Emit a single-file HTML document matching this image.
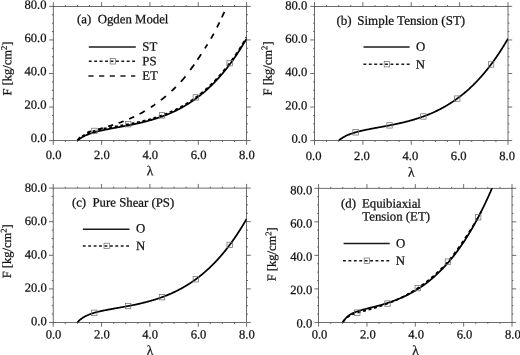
<!DOCTYPE html>
<html><head><meta charset="utf-8"><title>Ogden model figure</title>
<style>html,body{margin:0;padding:0;background:#fff}text{stroke:#111;stroke-width:.25px}body{width:520px;height:355px;overflow:hidden}</style>
</head><body>
<svg width="520" height="355" viewBox="0 0 520 355" font-family="'Liberation Serif', serif" style="display:block">
<rect width="520" height="355" fill="#fff"/>
<defs>
<clipPath id="ca"><rect x="53.3" y="6.4" width="193.30" height="134.20"/></clipPath>
<clipPath id="cb"><rect x="314.5" y="6.4" width="193.50" height="134.20"/></clipPath>
<clipPath id="cc"><rect x="53.2" y="188.1" width="193.40" height="134.40"/></clipPath>
<clipPath id="cd"><rect x="318.6" y="188.3" width="193.40" height="134.10"/></clipPath>
</defs>
<g stroke="#484848" stroke-width="0.8" fill="none">
<rect x="53.30" y="6.40" width="193.30" height="134.20"/>
<path d="M53.30 140.60v4.2M53.30 6.40v-4.2M65.38 140.60v1.4M65.38 6.40v-1.4M77.46 140.60v1.4M77.46 6.40v-1.4M89.54 140.60v1.4M89.54 6.40v-1.4M101.62 140.60v4.2M101.62 6.40v-4.2M113.71 140.60v1.4M113.71 6.40v-1.4M125.79 140.60v1.4M125.79 6.40v-1.4M137.87 140.60v1.4M137.87 6.40v-1.4M149.95 140.60v4.2M149.95 6.40v-4.2M162.03 140.60v1.4M162.03 6.40v-1.4M174.11 140.60v1.4M174.11 6.40v-1.4M186.19 140.60v1.4M186.19 6.40v-1.4M198.28 140.60v4.2M198.28 6.40v-4.2M210.36 140.60v1.4M210.36 6.40v-1.4M222.44 140.60v1.4M222.44 6.40v-1.4M234.52 140.60v1.4M234.52 6.40v-1.4M246.60 140.60v4.2M246.60 6.40v-4.2M53.30 140.60h-4.2M246.60 140.60h4.2M53.30 132.21h-1.4M246.60 132.21h1.4M53.30 123.82h-1.4M246.60 123.82h1.4M53.30 115.44h-1.4M246.60 115.44h1.4M53.30 107.05h-4.2M246.60 107.05h4.2M53.30 98.66h-1.4M246.60 98.66h1.4M53.30 90.28h-1.4M246.60 90.28h1.4M53.30 81.89h-1.4M246.60 81.89h1.4M53.30 73.50h-4.2M246.60 73.50h4.2M53.30 65.11h-1.4M246.60 65.11h1.4M53.30 56.73h-1.4M246.60 56.73h1.4M53.30 48.34h-1.4M246.60 48.34h1.4M53.30 39.95h-4.2M246.60 39.95h4.2M53.30 31.56h-1.4M246.60 31.56h1.4M53.30 23.18h-1.4M246.60 23.18h1.4M53.30 14.79h-1.4M246.60 14.79h1.4M53.30 6.40h-4.2M246.60 6.40h4.2"/>
</g>
<g font-size="12.6" fill="#111">
<text x="53.60" y="159.10" transform="rotate(0.03 53.60 159.10)" text-anchor="middle">0.0</text>
<text x="101.92" y="159.10" transform="rotate(0.03 101.92 159.10)" text-anchor="middle">2.0</text>
<text x="150.25" y="159.10" transform="rotate(0.03 150.25 159.10)" text-anchor="middle">4.0</text>
<text x="198.58" y="159.10" transform="rotate(0.03 198.58 159.10)" text-anchor="middle">6.0</text>
<text x="246.90" y="159.10" transform="rotate(0.03 246.90 159.10)" text-anchor="middle">8.0</text>
<text x="46.50" y="142.00" transform="rotate(0.03 46.50 142.00)" text-anchor="end">0.0</text>
<text x="46.50" y="108.66" transform="rotate(0.03 46.50 108.66)" text-anchor="end">20.0</text>
<text x="46.50" y="75.33" transform="rotate(0.03 46.50 75.33)" text-anchor="end">40.0</text>
<text x="46.50" y="41.99" transform="rotate(0.03 46.50 41.99)" text-anchor="end">60.0</text>
<text x="46.50" y="8.65" transform="rotate(0.03 46.50 8.65)" text-anchor="end">80.0</text>
</g>
<text x="150.05" y="175.20" transform="rotate(0.03 150.05 175.20)" text-anchor="middle" font-size="13.5" fill="#111">λ</text>
<text transform="translate(11.20 95.50) rotate(-89.97)" font-size="12.5" fill="#111">F [kg/cm<tspan font-size="8.6" dy="-4.6">2</tspan><tspan dy="4.6">]</tspan></text>
<g clip-path="url(#ca)">
<path d="M77.65 140.30L77.88 139.96L78.10 139.62L78.33 139.30L78.56 139.00L78.79 138.70L79.01 138.42L79.24 138.15L79.47 137.88L79.70 137.63L79.92 137.39L80.15 137.16M87.25 132.53L87.60 132.39L87.94 132.24L88.29 132.11L88.63 131.97L88.98 131.84L89.32 131.72L89.67 131.60L90.01 131.48L90.36 131.36L90.70 131.25L91.05 131.14M97.95 129.35L98.39 129.24L98.82 129.14L99.26 129.03L99.70 128.91L100.13 128.80L100.57 128.68L101.00 128.56L101.44 128.44L101.88 128.31L102.31 128.19L102.75 128.06M108.15 126.42L108.60 126.28L109.06 126.14L109.51 126.00L109.97 125.86L110.42 125.72L110.88 125.58L111.33 125.44L111.79 125.30L112.24 125.16L112.70 125.01L113.15 124.87M118.65 123.03L119.10 122.87L119.56 122.71L120.01 122.54L120.47 122.38L120.92 122.21L121.38 122.05L121.83 121.88L122.29 121.71L122.74 121.54L123.20 121.37L123.65 121.20M129.15 118.97L129.60 118.77L130.06 118.57L130.51 118.37L130.97 118.17L131.42 117.97L131.88 117.76L132.33 117.55L132.79 117.34L133.24 117.13L133.70 116.92L134.15 116.70M139.55 113.95L140.02 113.70L140.50 113.45L140.97 113.19L141.44 112.93L141.91 112.67L142.39 112.41L142.86 112.14L143.33 111.87L143.80 111.60L144.28 111.32L144.75 111.04M150.85 107.27L151.25 107.01L151.65 106.75L152.05 106.48L152.45 106.22L152.85 105.95L153.25 105.69L153.65 105.42L154.05 105.14L154.45 104.87L154.85 104.59L155.25 104.31M160.95 100.10L161.40 99.75L161.84 99.40L162.29 99.05L162.73 98.69L163.18 98.33L163.62 97.97L164.07 97.61L164.51 97.24L164.96 96.87L165.40 96.50L165.85 96.12M171.55 91.08L171.94 90.72L172.33 90.35L172.72 89.99L173.11 89.62L173.50 89.25L173.90 88.87L174.29 88.50L174.68 88.12L175.07 87.74L175.46 87.35L175.85 86.96M180.85 81.73L181.26 81.28L181.67 80.82L182.08 80.36L182.49 79.89L182.90 79.42L183.30 78.94L183.71 78.45L184.12 77.95L184.53 77.44L184.94 76.93L185.35 76.42M190.15 70.07L190.51 69.58L190.88 69.10L191.24 68.61L191.60 68.12L191.97 67.63L192.33 67.14L192.70 66.64L193.06 66.14L193.42 65.64L193.79 65.13L194.15 64.62M197.45 59.85L197.79 59.34L198.12 58.84L198.46 58.33L198.80 57.83L199.13 57.32L199.47 56.81L199.80 56.30L200.14 55.79L200.48 55.28L200.81 54.77L201.15 54.26M204.95 48.35L205.18 47.98L205.40 47.62L205.63 47.25L205.86 46.89L206.09 46.52L206.31 46.16L206.54 45.80L206.77 45.43L207.00 45.07L207.22 44.71L207.45 44.35M210.95 38.63L211.20 38.19L211.46 37.75L211.71 37.31L211.97 36.86L212.22 36.41L212.48 35.95L212.73 35.48L212.99 35.01L213.24 34.54L213.50 34.07L213.75 33.59M216.95 27.43L217.18 26.98L217.40 26.53L217.63 26.08L217.86 25.62L218.09 25.17L218.31 24.71L218.54 24.25L218.77 23.78L219.00 23.32L219.22 22.85L219.45 22.39M221.85 17.33L222.08 16.84L222.30 16.35L222.53 15.86L222.76 15.36L222.99 14.86L223.21 14.37L223.44 13.86L223.67 13.36L223.90 12.86L224.12 12.35L224.35 11.84" stroke="#000" stroke-width="1.75" fill="none"/>
<path d="M77.46 140.60L77.48 140.58L78.33 139.63L79.18 138.78L79.78 138.22M82.12 136.37L82.14 136.36L82.98 135.79L83.83 135.26L84.67 134.77L84.76 134.73M87.29 133.46L87.29 133.46L88.14 133.09L88.99 132.74L89.83 132.41L90.07 132.32M92.69 131.42L92.71 131.42L93.55 131.15L94.40 130.90L95.25 130.66L95.53 130.58M98.18 129.89L98.18 129.89L99.03 129.69L99.88 129.49L100.72 129.30L101.04 129.23M103.70 128.66L103.72 128.65L104.57 128.48L105.42 128.31L106.26 128.15L106.57 128.09M109.25 127.58L109.26 127.58L110.11 127.42L110.96 127.27L111.80 127.12L112.12 127.06M114.80 126.58L114.80 126.58L115.65 126.43L116.50 126.29L117.34 126.14L117.68 126.08M120.36 125.60L120.37 125.60L121.21 125.45L122.06 125.30L122.90 125.15L123.23 125.09M125.91 124.60L125.93 124.60L126.77 124.44L127.62 124.28L128.46 124.12L128.78 124.06M131.45 123.54L131.47 123.54L132.31 123.37L133.16 123.20L134.00 123.02L134.32 122.96M136.99 122.39L137.01 122.39L137.85 122.20L138.70 122.01L139.54 121.82L139.85 121.75M142.51 121.13L142.53 121.13L143.37 120.92L144.22 120.71L145.06 120.50L145.37 120.42M148.02 119.73L148.02 119.73L148.87 119.50L149.71 119.26L150.56 119.02L150.86 118.94M153.50 118.16L153.52 118.16L154.37 117.90L155.21 117.63L156.06 117.37L156.33 117.28M158.95 116.41L158.95 116.41L159.80 116.12L160.65 115.83L161.49 115.53L161.76 115.43M164.37 114.46L164.39 114.45L165.23 114.12L166.08 113.79L166.93 113.45L167.16 113.36M169.74 112.28L169.76 112.27L170.61 111.91L171.45 111.53L172.30 111.15L172.50 111.06M175.05 109.87L175.07 109.86L175.91 109.45L176.76 109.03L177.60 108.61L177.78 108.52M180.30 107.20L180.31 107.20L181.16 106.74L182.00 106.27L182.85 105.80L182.99 105.72M185.48 104.27L185.49 104.27L186.34 103.76L187.18 103.24L188.03 102.71L188.13 102.65M190.57 101.08L190.59 101.07L191.43 100.50L192.28 99.93L193.12 99.35L193.17 99.32M195.57 97.61L195.58 97.60L196.42 96.98L197.27 96.35L198.11 95.71M200.46 93.88L200.46 93.87L201.31 93.19L202.15 92.50L202.95 91.84M205.24 89.88L205.24 89.88L206.09 89.13L206.93 88.38L207.67 87.71M209.90 85.63L209.91 85.61L210.76 84.80L211.61 83.98L212.26 83.33M214.43 81.13L214.44 81.13L215.28 80.25L216.13 79.35L216.73 78.71M218.84 76.40L218.86 76.38L219.70 75.43L220.55 74.47L221.07 73.86M223.12 71.45L223.13 71.44L223.98 70.42L224.82 69.39L225.29 68.81M227.27 66.30L227.27 66.30L228.12 65.20L228.97 64.09L229.37 63.56M231.29 60.96L231.29 60.96L232.14 59.79L232.98 58.60L233.32 58.13M235.18 55.45L235.20 55.41L236.05 54.17L236.89 52.91L237.15 52.53M238.95 49.77L238.97 49.74L239.81 48.42L240.66 47.08L240.85 46.77M242.60 43.95L242.60 43.94L243.45 42.54L244.30 41.13L244.44 40.88M246.13 38.00L246.13 37.98L246.60 37.17" stroke="#000" stroke-width="1.75" fill="none"/>
<path d="M77.46 140.60L78.03 140.12L78.59 139.66L79.16 139.22L79.73 138.81L80.29 138.41L80.86 138.04L81.42 137.68L81.99 137.34L82.55 137.01L83.12 136.70L83.68 136.40L84.25 136.11L84.82 135.83L85.38 135.56L85.95 135.31L86.51 135.06L87.08 134.82L87.64 134.59L88.21 134.36L88.78 134.15L89.34 133.94L89.91 133.73L90.47 133.54L91.04 133.34L91.60 133.16L92.17 132.98L92.74 132.80L93.30 132.63L93.87 132.46L94.43 132.30L95.00 132.14L95.56 131.98L96.13 131.83L96.70 131.68L97.26 131.53L97.83 131.39L98.39 131.25L98.96 131.11L99.52 130.97L100.09 130.84L100.66 130.71L101.22 130.58L101.79 130.45L102.35 130.33L102.92 130.20L103.48 130.08L104.05 129.96L104.62 129.84L105.18 129.73L105.75 129.61L106.31 129.50L106.88 129.38L107.44 129.27L108.01 129.16L108.57 129.05L109.14 128.94L109.71 128.83L110.27 128.72L110.84 128.61L111.40 128.51L111.97 128.40L112.53 128.29L113.10 128.19L113.67 128.08L114.23 127.98L114.80 127.87L115.36 127.77L115.93 127.67L116.49 127.56L117.06 127.46L117.63 127.35L118.19 127.25L118.76 127.15L119.32 127.04L119.89 126.94L120.45 126.84L121.02 126.73L121.59 126.63L122.15 126.52L122.72 126.42L123.28 126.31L123.85 126.21L124.41 126.10L124.98 125.99L125.55 125.89L126.11 125.78L126.68 125.67L127.24 125.56L127.81 125.45L128.37 125.34L128.94 125.23L129.50 125.12L130.07 125.01L130.64 124.89L131.20 124.78L131.77 124.66L132.33 124.55L132.90 124.43L133.46 124.31L134.03 124.20L134.60 124.08L135.16 123.96L135.73 123.83L136.29 123.71L136.86 123.59L137.42 123.46L137.99 123.34L138.56 123.21L139.12 123.08L139.69 122.95L140.25 122.82L140.82 122.69L141.38 122.55L141.95 122.42L142.52 122.28L143.08 122.14L143.65 122.00L144.21 121.86L144.78 121.72L145.34 121.57L145.91 121.43L146.48 121.28L147.04 121.13L147.61 120.98L148.17 120.83L148.74 120.67L149.30 120.52L149.87 120.36L150.43 120.20L151.00 120.04L151.57 119.87L152.13 119.71L152.70 119.54L153.26 119.37L153.83 119.20L154.39 119.03L154.96 118.85L155.53 118.67L156.09 118.49L156.66 118.31L157.22 118.13L157.79 117.94L158.35 117.75L158.92 117.56L159.49 117.37L160.05 117.17L160.62 116.97L161.18 116.77L161.75 116.57L162.31 116.37L162.88 116.16L163.45 115.95L164.01 115.73L164.58 115.52L165.14 115.30L165.71 115.08L166.27 114.86L166.84 114.63L167.41 114.40L167.97 114.17L168.54 113.94L169.10 113.70L169.67 113.46L170.23 113.22L170.80 112.97L171.36 112.72L171.93 112.47L172.50 112.21L173.06 111.95L173.63 111.69L174.19 111.43L174.76 111.16L175.32 110.89L175.89 110.62L176.46 110.34L177.02 110.06L177.59 109.78L178.15 109.49L178.72 109.20L179.28 108.90L179.85 108.61L180.42 108.31L180.98 108.00L181.55 107.69L182.11 107.38L182.68 107.07L183.24 106.75L183.81 106.42L184.38 106.10L184.94 105.77L185.51 105.43L186.07 105.10L186.64 104.75L187.20 104.41L187.77 104.06L188.34 103.71L188.90 103.35L189.47 102.99L190.03 102.62L190.60 102.25L191.16 101.88L191.73 101.50L192.29 101.12L192.86 100.73L193.43 100.34L193.99 99.94L194.56 99.54L195.12 99.14L195.69 98.73L196.25 98.32L196.82 97.90L197.39 97.48L197.95 97.05L198.52 96.62L199.08 96.18L199.65 95.74L200.21 95.30L200.78 94.84L201.35 94.39L201.91 93.93L202.48 93.46L203.04 92.99L203.61 92.52L204.17 92.04L204.74 91.55L205.31 91.06L205.87 90.57L206.44 90.07L207.00 89.56L207.57 89.05L208.13 88.53L208.70 88.01L209.27 87.48L209.83 86.95L210.40 86.41L210.96 85.87L211.53 85.32L212.09 84.76L212.66 84.20L213.23 83.64L213.79 83.07L214.36 82.49L214.92 81.90L215.49 81.32L216.05 80.72L216.62 80.12L217.18 79.51L217.75 78.90L218.32 78.28L218.88 77.65L219.45 77.02L220.01 76.38L220.58 75.74L221.14 75.09L221.71 74.43L222.28 73.77L222.84 73.10L223.41 72.43L223.97 71.74L224.54 71.05L225.10 70.36L225.67 69.66L226.24 68.95L226.80 68.23L227.37 67.51L227.93 66.78L228.50 66.05L229.06 65.30L229.63 64.55L230.20 63.80L230.76 63.03L231.33 62.26L231.89 61.48L232.46 60.70L233.02 59.91L233.59 59.11L234.16 58.30L234.72 57.49L235.29 56.66L235.85 55.83L236.42 55.00L236.98 54.15L237.55 53.30L238.11 52.44L238.68 51.58L239.25 50.70L239.81 49.82L240.38 48.93L240.94 48.03L241.51 47.12L242.07 46.21L242.64 45.29L243.21 44.36L243.77 43.42L244.34 42.47L244.90 41.52L245.47 40.55L246.03 39.58L246.60 38.60" stroke="#000" stroke-width="1.75" fill="none"/>
<rect x="91.68" y="128.21" width="5.4" height="5.4" fill="none" stroke="#707070" stroke-width="0.75"/>
<rect x="125.50" y="121.47" width="5.4" height="5.4" fill="none" stroke="#707070" stroke-width="0.75"/>
<rect x="159.33" y="112.63" width="5.4" height="5.4" fill="none" stroke="#707070" stroke-width="0.75"/>
<rect x="193.16" y="94.70" width="5.4" height="5.4" fill="none" stroke="#707070" stroke-width="0.75"/>
<rect x="226.99" y="60.43" width="5.4" height="5.4" fill="none" stroke="#707070" stroke-width="0.75"/>
</g>
<text x="77.00" y="23.20" transform="rotate(0.03 77.00 23.20)" font-size="12.8" fill="#111" xml:space="preserve">(a)<tspan dx="6.5">Ogden Model</tspan></text>
<path d="M88.8 46.9H135.8" stroke="#1a1a1a" stroke-width="1.5" fill="none"/>
<path d="M88.8 61.3H135.3" stroke="#1a1a1a" stroke-width="1.5" fill="none" stroke-dasharray="2.9 2.52"/>
<rect x="110.20" y="58.60" width="5.4" height="5.4" fill="none" stroke="#707070" stroke-width="0.75"/>
<path d="M88.4 76.0H135.3" stroke="#1a1a1a" stroke-width="1.5" fill="none" stroke-dasharray="5.2 5.47"/>
<text x="142.30" y="50.80" transform="rotate(0.03 142.30 50.80)" font-size="12.8" fill="#111" xml:space="preserve">ST</text>
<text x="142.30" y="65.30" transform="rotate(0.03 142.30 65.30)" font-size="12.8" fill="#111" xml:space="preserve">PS</text>
<text x="142.30" y="79.70" transform="rotate(0.03 142.30 79.70)" font-size="12.8" fill="#111" xml:space="preserve">ET</text>
<g stroke="#484848" stroke-width="0.8" fill="none">
<rect x="314.50" y="6.40" width="193.50" height="134.20"/>
<path d="M314.50 140.60v4.2M314.50 6.40v-4.2M326.59 140.60v1.4M326.59 6.40v-1.4M338.69 140.60v1.4M338.69 6.40v-1.4M350.78 140.60v1.4M350.78 6.40v-1.4M362.88 140.60v4.2M362.88 6.40v-4.2M374.97 140.60v1.4M374.97 6.40v-1.4M387.06 140.60v1.4M387.06 6.40v-1.4M399.16 140.60v1.4M399.16 6.40v-1.4M411.25 140.60v4.2M411.25 6.40v-4.2M423.34 140.60v1.4M423.34 6.40v-1.4M435.44 140.60v1.4M435.44 6.40v-1.4M447.53 140.60v1.4M447.53 6.40v-1.4M459.62 140.60v4.2M459.62 6.40v-4.2M471.72 140.60v1.4M471.72 6.40v-1.4M483.81 140.60v1.4M483.81 6.40v-1.4M495.91 140.60v1.4M495.91 6.40v-1.4M508.00 140.60v4.2M508.00 6.40v-4.2M314.50 140.60h-4.2M508.00 140.60h4.2M314.50 132.21h-1.4M508.00 132.21h1.4M314.50 123.82h-1.4M508.00 123.82h1.4M314.50 115.44h-1.4M508.00 115.44h1.4M314.50 107.05h-4.2M508.00 107.05h4.2M314.50 98.66h-1.4M508.00 98.66h1.4M314.50 90.28h-1.4M508.00 90.28h1.4M314.50 81.89h-1.4M508.00 81.89h1.4M314.50 73.50h-4.2M508.00 73.50h4.2M314.50 65.11h-1.4M508.00 65.11h1.4M314.50 56.73h-1.4M508.00 56.73h1.4M314.50 48.34h-1.4M508.00 48.34h1.4M314.50 39.95h-4.2M508.00 39.95h4.2M314.50 31.56h-1.4M508.00 31.56h1.4M314.50 23.18h-1.4M508.00 23.18h1.4M314.50 14.79h-1.4M508.00 14.79h1.4M314.50 6.40h-4.2M508.00 6.40h4.2"/>
</g>
<g font-size="12.6" fill="#111">
<text x="313.60" y="159.90" transform="rotate(0.03 313.60 159.90)" text-anchor="middle">0.0</text>
<text x="361.98" y="159.90" transform="rotate(0.03 361.98 159.90)" text-anchor="middle">2.0</text>
<text x="410.35" y="159.90" transform="rotate(0.03 410.35 159.90)" text-anchor="middle">4.0</text>
<text x="458.73" y="159.90" transform="rotate(0.03 458.73 159.90)" text-anchor="middle">6.0</text>
<text x="507.10" y="159.90" transform="rotate(0.03 507.10 159.90)" text-anchor="middle">8.0</text>
<text x="307.30" y="142.80" transform="rotate(0.03 307.30 142.80)" text-anchor="end">0.0</text>
<text x="307.30" y="109.45" transform="rotate(0.03 307.30 109.45)" text-anchor="end">20.0</text>
<text x="307.30" y="76.10" transform="rotate(0.03 307.30 76.10)" text-anchor="end">40.0</text>
<text x="307.30" y="42.75" transform="rotate(0.03 307.30 42.75)" text-anchor="end">60.0</text>
<text x="307.30" y="9.40" transform="rotate(0.03 307.30 9.40)" text-anchor="end">80.0</text>
</g>
<text x="411.35" y="176.50" transform="rotate(0.03 411.35 176.50)" text-anchor="middle" font-size="13.5" fill="#111">λ</text>
<text transform="translate(271.70 95.40) rotate(-89.97)" font-size="12.5" fill="#111">F [kg/cm<tspan font-size="8.6" dy="-4.6">2</tspan><tspan dy="4.6">]</tspan></text>
<g clip-path="url(#cb)">
<path d="M338.69 140.60L339.25 140.12L339.82 139.66L340.39 139.22L340.95 138.81L341.52 138.41L342.09 138.04L342.65 137.68L343.22 137.34L343.78 137.01L344.35 136.70L344.92 136.40L345.48 136.11L346.05 135.83L346.62 135.56L347.18 135.31L347.75 135.06L348.31 134.82L348.88 134.59L349.45 134.36L350.01 134.15L350.58 133.94L351.15 133.73L351.71 133.54L352.28 133.34L352.84 133.16L353.41 132.98L353.98 132.80L354.54 132.63L355.11 132.46L355.68 132.30L356.24 132.14L356.81 131.98L357.37 131.83L357.94 131.68L358.51 131.53L359.07 131.39L359.64 131.25L360.21 131.11L360.77 130.97L361.34 130.84L361.90 130.71L362.47 130.58L363.04 130.45L363.60 130.33L364.17 130.20L364.74 130.08L365.30 129.96L365.87 129.84L366.43 129.73L367.00 129.61L367.57 129.50L368.13 129.38L368.70 129.27L369.27 129.16L369.83 129.05L370.40 128.94L370.96 128.83L371.53 128.72L372.10 128.61L372.66 128.51L373.23 128.40L373.80 128.29L374.36 128.19L374.93 128.08L375.49 127.98L376.06 127.87L376.63 127.77L377.19 127.67L377.76 127.56L378.33 127.46L378.89 127.35L379.46 127.25L380.02 127.15L380.59 127.04L381.16 126.94L381.72 126.84L382.29 126.73L382.86 126.63L383.42 126.52L383.99 126.42L384.55 126.31L385.12 126.21L385.69 126.10L386.25 125.99L386.82 125.89L387.39 125.78L387.95 125.67L388.52 125.56L389.08 125.45L389.65 125.34L390.22 125.23L390.78 125.12L391.35 125.01L391.92 124.89L392.48 124.78L393.05 124.66L393.61 124.55L394.18 124.43L394.75 124.31L395.31 124.20L395.88 124.08L396.45 123.96L397.01 123.83L397.58 123.71L398.15 123.59L398.71 123.46L399.28 123.34L399.84 123.21L400.41 123.08L400.98 122.95L401.54 122.82L402.11 122.69L402.68 122.55L403.24 122.42L403.81 122.28L404.37 122.14L404.94 122.00L405.51 121.86L406.07 121.72L406.64 121.57L407.21 121.43L407.77 121.28L408.34 121.13L408.90 120.98L409.47 120.83L410.04 120.67L410.60 120.52L411.17 120.36L411.74 120.20L412.30 120.04L412.87 119.87L413.43 119.71L414.00 119.54L414.57 119.37L415.13 119.20L415.70 119.03L416.27 118.85L416.83 118.67L417.40 118.49L417.96 118.31L418.53 118.13L419.10 117.94L419.66 117.75L420.23 117.56L420.80 117.37L421.36 117.17L421.93 116.97L422.49 116.77L423.06 116.57L423.63 116.37L424.19 116.16L424.76 115.95L425.33 115.73L425.89 115.52L426.46 115.30L427.02 115.08L427.59 114.86L428.16 114.63L428.72 114.40L429.29 114.17L429.86 113.94L430.42 113.70L430.99 113.46L431.55 113.22L432.12 112.97L432.69 112.72L433.25 112.47L433.82 112.21L434.39 111.95L434.95 111.69L435.52 111.43L436.08 111.16L436.65 110.89L437.22 110.62L437.78 110.34L438.35 110.06L438.92 109.78L439.48 109.49L440.05 109.20L440.61 108.90L441.18 108.61L441.75 108.31L442.31 108.00L442.88 107.69L443.45 107.38L444.01 107.07L444.58 106.75L445.14 106.42L445.71 106.10L446.28 105.77L446.84 105.43L447.41 105.10L447.98 104.75L448.54 104.41L449.11 104.06L449.67 103.71L450.24 103.35L450.81 102.99L451.37 102.62L451.94 102.25L452.51 101.88L453.07 101.50L453.64 101.12L454.21 100.73L454.77 100.34L455.34 99.94L455.90 99.54L456.47 99.14L457.04 98.73L457.60 98.32L458.17 97.90L458.74 97.48L459.30 97.05L459.87 96.62L460.43 96.18L461.00 95.74L461.57 95.30L462.13 94.84L462.70 94.39L463.27 93.93L463.83 93.46L464.40 92.99L464.96 92.52L465.53 92.04L466.10 91.55L466.66 91.06L467.23 90.57L467.80 90.07L468.36 89.56L468.93 89.05L469.49 88.53L470.06 88.01L470.63 87.48L471.19 86.95L471.76 86.41L472.33 85.87L472.89 85.32L473.46 84.76L474.02 84.20L474.59 83.64L475.16 83.07L475.72 82.49L476.29 81.90L476.86 81.32L477.42 80.72L477.99 80.12L478.55 79.51L479.12 78.90L479.69 78.28L480.25 77.65L480.82 77.02L481.39 76.38L481.95 75.74L482.52 75.09L483.08 74.43L483.65 73.77L484.22 73.10L484.78 72.43L485.35 71.74L485.92 71.05L486.48 70.36L487.05 69.66L487.61 68.95L488.18 68.23L488.75 67.51L489.31 66.78L489.88 66.05L490.45 65.30L491.01 64.55L491.58 63.80L492.14 63.03L492.71 62.26L493.28 61.48L493.84 60.70L494.41 59.91L494.98 59.11L495.54 58.30L496.11 57.49L496.67 56.66L497.24 55.83L497.81 55.00L498.37 54.15L498.94 53.30L499.51 52.44L500.07 51.58L500.64 50.70L501.20 49.82L501.77 48.93L502.34 48.03L502.90 47.12L503.47 46.21L504.04 45.29L504.60 44.36L505.17 43.42L505.73 42.47L506.30 41.52L506.87 40.55L507.43 39.58L508.00 38.60" stroke="#000" stroke-width="1.75" fill="none"/>
<rect x="352.92" y="129.61" width="5.4" height="5.4" fill="none" stroke="#707070" stroke-width="0.75"/>
<rect x="386.78" y="122.67" width="5.4" height="5.4" fill="none" stroke="#707070" stroke-width="0.75"/>
<rect x="420.64" y="113.77" width="5.4" height="5.4" fill="none" stroke="#707070" stroke-width="0.75"/>
<rect x="454.51" y="95.91" width="5.4" height="5.4" fill="none" stroke="#707070" stroke-width="0.75"/>
<rect x="488.37" y="61.78" width="5.4" height="5.4" fill="none" stroke="#707070" stroke-width="0.75"/>
</g>
<text x="336.40" y="24.70" transform="rotate(0.03 336.40 24.70)" font-size="13.0" fill="#111" xml:space="preserve">(b)<tspan dx="5.7">Simple Tension (ST)</tspan></text>
<path d="M363.5 47.0H409.6" stroke="#1a1a1a" stroke-width="1.5" fill="none"/>
<path d="M363.4 64.2H409.9" stroke="#1a1a1a" stroke-width="1.5" fill="none" stroke-dasharray="2.9 2.52"/>
<rect x="384.20" y="61.50" width="5.4" height="5.4" fill="none" stroke="#707070" stroke-width="0.75"/>
<text x="416.00" y="50.80" transform="rotate(0.03 416.00 50.80)" font-size="12.8" fill="#111" xml:space="preserve">O</text>
<text x="415.70" y="68.40" transform="rotate(0.03 415.70 68.40)" font-size="12.8" fill="#111" xml:space="preserve">N</text>
<g stroke="#484848" stroke-width="0.8" fill="none">
<rect x="53.20" y="188.10" width="193.40" height="134.40"/>
<path d="M53.20 322.50v4.2M53.20 188.10v-4.2M65.29 322.50v1.4M65.29 188.10v-1.4M77.38 322.50v1.4M77.38 188.10v-1.4M89.46 322.50v1.4M89.46 188.10v-1.4M101.55 322.50v4.2M101.55 188.10v-4.2M113.64 322.50v1.4M113.64 188.10v-1.4M125.72 322.50v1.4M125.72 188.10v-1.4M137.81 322.50v1.4M137.81 188.10v-1.4M149.90 322.50v4.2M149.90 188.10v-4.2M161.99 322.50v1.4M161.99 188.10v-1.4M174.07 322.50v1.4M174.07 188.10v-1.4M186.16 322.50v1.4M186.16 188.10v-1.4M198.25 322.50v4.2M198.25 188.10v-4.2M210.34 322.50v1.4M210.34 188.10v-1.4M222.42 322.50v1.4M222.42 188.10v-1.4M234.51 322.50v1.4M234.51 188.10v-1.4M246.60 322.50v4.2M246.60 188.10v-4.2M53.20 322.50h-4.2M246.60 322.50h4.2M53.20 314.10h-1.4M246.60 314.10h1.4M53.20 305.70h-1.4M246.60 305.70h1.4M53.20 297.30h-1.4M246.60 297.30h1.4M53.20 288.90h-4.2M246.60 288.90h4.2M53.20 280.50h-1.4M246.60 280.50h1.4M53.20 272.10h-1.4M246.60 272.10h1.4M53.20 263.70h-1.4M246.60 263.70h1.4M53.20 255.30h-4.2M246.60 255.30h4.2M53.20 246.90h-1.4M246.60 246.90h1.4M53.20 238.50h-1.4M246.60 238.50h1.4M53.20 230.10h-1.4M246.60 230.10h1.4M53.20 221.70h-4.2M246.60 221.70h4.2M53.20 213.30h-1.4M246.60 213.30h1.4M53.20 204.90h-1.4M246.60 204.90h1.4M53.20 196.50h-1.4M246.60 196.50h1.4M53.20 188.10h-4.2M246.60 188.10h4.2"/>
</g>
<g font-size="12.6" fill="#111">
<text x="53.50" y="338.50" transform="rotate(0.03 53.50 338.50)" text-anchor="middle">0.0</text>
<text x="101.85" y="338.50" transform="rotate(0.03 101.85 338.50)" text-anchor="middle">2.0</text>
<text x="150.20" y="338.50" transform="rotate(0.03 150.20 338.50)" text-anchor="middle">4.0</text>
<text x="198.55" y="338.50" transform="rotate(0.03 198.55 338.50)" text-anchor="middle">6.0</text>
<text x="246.90" y="338.50" transform="rotate(0.03 246.90 338.50)" text-anchor="middle">8.0</text>
<text x="46.70" y="325.20" transform="rotate(0.03 46.70 325.20)" text-anchor="end">0.0</text>
<text x="46.70" y="291.84" transform="rotate(0.03 46.70 291.84)" text-anchor="end">20.0</text>
<text x="46.70" y="258.48" transform="rotate(0.03 46.70 258.48)" text-anchor="end">40.0</text>
<text x="46.70" y="225.11" transform="rotate(0.03 46.70 225.11)" text-anchor="end">60.0</text>
<text x="46.70" y="191.75" transform="rotate(0.03 46.70 191.75)" text-anchor="end">80.0</text>
</g>
<text x="150.00" y="354.70" transform="rotate(0.03 150.00 354.70)" text-anchor="middle" font-size="13.5" fill="#111">λ</text>
<text transform="translate(11.10 278.30) rotate(-89.97)" font-size="12.5" fill="#111">F [kg/cm<tspan font-size="8.6" dy="-4.6">2</tspan><tspan dy="4.6">]</tspan></text>
<g clip-path="url(#cc)">
<path d="M77.38 322.50L77.94 321.86L78.51 321.26L79.07 320.70L79.64 320.17L80.20 319.68L80.77 319.21L81.34 318.77L81.90 318.36L82.47 317.96L83.03 317.59L83.60 317.24L84.17 316.90L84.73 316.58L85.30 316.28L85.86 315.99L86.43 315.71L87.00 315.45L87.56 315.19L88.13 314.95L88.69 314.71L89.26 314.49L89.83 314.27L90.39 314.06L90.96 313.86L91.52 313.66L92.09 313.48L92.66 313.29L93.22 313.12L93.79 312.94L94.35 312.78L94.92 312.62L95.49 312.46L96.05 312.30L96.62 312.15L97.18 312.01L97.75 311.87L98.32 311.73L98.88 311.59L99.45 311.46L100.01 311.32L100.58 311.20L101.15 311.07L101.71 310.95L102.28 310.82L102.84 310.70L103.41 310.59L103.98 310.47L104.54 310.36L105.11 310.24L105.67 310.13L106.24 310.02L106.81 309.91L107.37 309.80L107.94 309.70L108.50 309.59L109.07 309.48L109.64 309.38L110.20 309.28L110.77 309.17L111.33 309.07L111.90 308.97L112.47 308.87L113.03 308.77L113.60 308.66L114.16 308.56L114.73 308.46L115.29 308.36L115.86 308.26L116.43 308.16L116.99 308.06L117.56 307.96L118.12 307.86L118.69 307.76L119.26 307.66L119.82 307.56L120.39 307.46L120.95 307.36L121.52 307.26L122.09 307.16L122.65 307.06L123.22 306.96L123.78 306.85L124.35 306.75L124.92 306.65L125.48 306.54L126.05 306.44L126.61 306.33L127.18 306.23L127.75 306.12L128.31 306.01L128.88 305.91L129.44 305.80L130.01 305.69L130.58 305.58L131.14 305.46L131.71 305.35L132.27 305.24L132.84 305.12L133.41 305.01L133.97 304.89L134.54 304.77L135.10 304.66L135.67 304.54L136.24 304.41L136.80 304.29L137.37 304.17L137.93 304.04L138.50 303.92L139.07 303.79L139.63 303.66L140.20 303.53L140.76 303.40L141.33 303.27L141.90 303.13L142.46 303.00L143.03 302.86L143.59 302.72L144.16 302.58L144.73 302.44L145.29 302.30L145.86 302.15L146.42 302.00L146.99 301.86L147.56 301.71L148.12 301.55L148.69 301.40L149.25 301.24L149.82 301.09L150.39 300.93L150.95 300.77L151.52 300.60L152.08 300.44L152.65 300.27L153.21 300.10L153.78 299.93L154.35 299.75L154.91 299.58L155.48 299.40L156.04 299.22L156.61 299.04L157.18 298.85L157.74 298.67L158.31 298.48L158.87 298.29L159.44 298.09L160.01 297.90L160.57 297.70L161.14 297.50L161.70 297.30L162.27 297.09L162.84 296.88L163.40 296.67L163.97 296.46L164.53 296.24L165.10 296.02L165.67 295.80L166.23 295.58L166.80 295.35L167.36 295.12L167.93 294.89L168.50 294.65L169.06 294.41L169.63 294.17L170.19 293.93L170.76 293.68L171.33 293.43L171.89 293.18L172.46 292.92L173.02 292.66L173.59 292.40L174.16 292.13L174.72 291.86L175.29 291.59L175.85 291.31L176.42 291.04L176.99 290.75L177.55 290.47L178.12 290.18L178.68 289.89L179.25 289.59L179.82 289.29L180.38 288.99L180.95 288.68L181.51 288.37L182.08 288.06L182.65 287.74L183.21 287.42L183.78 287.10L184.34 286.77L184.91 286.44L185.48 286.10L186.04 285.76L186.61 285.42L187.17 285.07L187.74 284.72L188.31 284.36L188.87 284.00L189.44 283.64L190.00 283.27L190.57 282.90L191.13 282.52L191.70 282.14L192.27 281.76L192.83 281.37L193.40 280.98L193.96 280.58L194.53 280.18L195.10 279.77L195.66 279.36L196.23 278.94L196.79 278.52L197.36 278.10L197.93 277.67L198.49 277.23L199.06 276.79L199.62 276.35L200.19 275.90L200.76 275.45L201.32 274.99L201.89 274.53L202.45 274.06L203.02 273.59L203.59 273.11L204.15 272.63L204.72 272.14L205.28 271.64L205.85 271.15L206.42 270.64L206.98 270.13L207.55 269.62L208.11 269.10L208.68 268.58L209.25 268.05L209.81 267.51L210.38 266.97L210.94 266.42L211.51 265.87L212.08 265.31L212.64 264.75L213.21 264.18L213.77 263.60L214.34 263.02L214.91 262.44L215.47 261.84L216.04 261.24L216.60 260.64L217.17 260.03L217.74 259.41L218.30 258.79L218.87 258.16L219.43 257.53L220.00 256.88L220.57 256.24L221.13 255.58L221.70 254.92L222.26 254.26L222.83 253.58L223.40 252.91L223.96 252.22L224.53 251.53L225.09 250.83L225.66 250.12L226.23 249.41L226.79 248.69L227.36 247.97L227.92 247.23L228.49 246.49L229.05 245.75L229.62 244.99L230.19 244.23L230.75 243.47L231.32 242.69L231.88 241.91L232.45 241.12L233.02 240.32L233.58 239.52L234.15 238.71L234.71 237.89L235.28 237.07L235.85 236.23L236.41 235.39L236.98 234.54L237.54 233.69L238.11 232.82L238.68 231.95L239.24 231.07L239.81 230.19L240.37 229.29L240.94 228.39L241.51 227.48L242.07 226.56L242.64 225.63L243.20 224.70L243.77 223.76L244.34 222.81L244.90 221.85L245.47 220.88L246.03 219.90L246.60 218.92" stroke="#000" stroke-width="1.75" fill="none"/>
<rect x="91.60" y="310.09" width="5.4" height="5.4" fill="none" stroke="#707070" stroke-width="0.75"/>
<rect x="125.44" y="303.35" width="5.4" height="5.4" fill="none" stroke="#707070" stroke-width="0.75"/>
<rect x="159.29" y="294.49" width="5.4" height="5.4" fill="none" stroke="#707070" stroke-width="0.75"/>
<rect x="193.13" y="276.53" width="5.4" height="5.4" fill="none" stroke="#707070" stroke-width="0.75"/>
<rect x="226.98" y="242.22" width="5.4" height="5.4" fill="none" stroke="#707070" stroke-width="0.75"/>
</g>
<text x="71.90" y="206.60" transform="rotate(0.03 71.90 206.60)" font-size="12.8" fill="#111" xml:space="preserve">(c)<tspan dx="6.4">Pure Shear (PS)</tspan></text>
<path d="M82.9 229.2H129.5" stroke="#1a1a1a" stroke-width="1.5" fill="none"/>
<path d="M82.8 245.9H129.3" stroke="#1a1a1a" stroke-width="1.5" fill="none" stroke-dasharray="2.9 2.52"/>
<rect x="104.00" y="243.20" width="5.4" height="5.4" fill="none" stroke="#707070" stroke-width="0.75"/>
<text x="136.10" y="232.60" transform="rotate(0.03 136.10 232.60)" font-size="12.8" fill="#111" xml:space="preserve">O</text>
<text x="135.90" y="250.10" transform="rotate(0.03 135.90 250.10)" font-size="12.8" fill="#111" xml:space="preserve">N</text>
<g stroke="#484848" stroke-width="0.8" fill="none">
<rect x="318.60" y="188.30" width="193.40" height="134.10"/>
<path d="M318.60 322.40v4.2M318.60 188.30v-4.2M330.69 322.40v1.4M330.69 188.30v-1.4M342.78 322.40v1.4M342.78 188.30v-1.4M354.86 322.40v1.4M354.86 188.30v-1.4M366.95 322.40v4.2M366.95 188.30v-4.2M379.04 322.40v1.4M379.04 188.30v-1.4M391.12 322.40v1.4M391.12 188.30v-1.4M403.21 322.40v1.4M403.21 188.30v-1.4M415.30 322.40v4.2M415.30 188.30v-4.2M427.39 322.40v1.4M427.39 188.30v-1.4M439.48 322.40v1.4M439.48 188.30v-1.4M451.56 322.40v1.4M451.56 188.30v-1.4M463.65 322.40v4.2M463.65 188.30v-4.2M475.74 322.40v1.4M475.74 188.30v-1.4M487.82 322.40v1.4M487.82 188.30v-1.4M499.91 322.40v1.4M499.91 188.30v-1.4M512.00 322.40v4.2M512.00 188.30v-4.2M318.60 322.40h-4.2M512.00 322.40h4.2M318.60 314.02h-1.4M512.00 314.02h1.4M318.60 305.64h-1.4M512.00 305.64h1.4M318.60 297.26h-1.4M512.00 297.26h1.4M318.60 288.88h-4.2M512.00 288.88h4.2M318.60 280.49h-1.4M512.00 280.49h1.4M318.60 272.11h-1.4M512.00 272.11h1.4M318.60 263.73h-1.4M512.00 263.73h1.4M318.60 255.35h-4.2M512.00 255.35h4.2M318.60 246.97h-1.4M512.00 246.97h1.4M318.60 238.59h-1.4M512.00 238.59h1.4M318.60 230.21h-1.4M512.00 230.21h1.4M318.60 221.82h-4.2M512.00 221.82h4.2M318.60 213.44h-1.4M512.00 213.44h1.4M318.60 205.06h-1.4M512.00 205.06h1.4M318.60 196.68h-1.4M512.00 196.68h1.4M318.60 188.30h-4.2M512.00 188.30h4.2"/>
</g>
<g font-size="12.6" fill="#111">
<text x="319.50" y="338.50" transform="rotate(0.03 319.50 338.50)" text-anchor="middle">0.0</text>
<text x="367.85" y="338.50" transform="rotate(0.03 367.85 338.50)" text-anchor="middle">2.0</text>
<text x="416.20" y="338.50" transform="rotate(0.03 416.20 338.50)" text-anchor="middle">4.0</text>
<text x="464.55" y="338.50" transform="rotate(0.03 464.55 338.50)" text-anchor="middle">6.0</text>
<text x="512.90" y="338.50" transform="rotate(0.03 512.90 338.50)" text-anchor="middle">8.0</text>
<text x="312.20" y="327.40" transform="rotate(0.03 312.20 327.40)" text-anchor="end">0.0</text>
<text x="312.20" y="294.11" transform="rotate(0.03 312.20 294.11)" text-anchor="end">20.0</text>
<text x="312.20" y="260.83" transform="rotate(0.03 312.20 260.83)" text-anchor="end">40.0</text>
<text x="312.20" y="227.54" transform="rotate(0.03 312.20 227.54)" text-anchor="end">60.0</text>
<text x="312.20" y="194.25" transform="rotate(0.03 312.20 194.25)" text-anchor="end">80.0</text>
</g>
<text x="415.40" y="354.70" transform="rotate(0.03 415.40 354.70)" text-anchor="middle" font-size="13.5" fill="#111">λ</text>
<text transform="translate(275.70 281.30) rotate(-89.97)" font-size="12.5" fill="#111">F [kg/cm<tspan font-size="8.6" dy="-4.6">2</tspan><tspan dy="4.6">]</tspan></text>
<g clip-path="url(#cd)">
<path d="M342.78 322.40L342.79 322.37L343.49 321.32L344.18 320.40L344.84 319.62M347.06 317.53L347.07 317.52L347.76 317.00L348.46 316.52L349.15 316.08L349.66 315.78M352.20 314.50L352.21 314.49L352.91 314.19L353.60 313.91L354.30 313.65L354.98 313.40M357.61 312.57L357.62 312.57L358.31 312.37L359.01 312.19L359.70 312.01L360.40 311.84L360.46 311.83M363.12 311.20L363.12 311.20L363.82 311.03L364.51 310.85L365.21 310.67L365.91 310.48L365.97 310.47M368.62 309.71L368.63 309.71L369.33 309.50L370.02 309.30L370.72 309.08L371.41 308.87L371.45 308.86M374.08 308.05L374.09 308.05L374.79 307.83L375.48 307.62L376.18 307.40L376.87 307.19L376.91 307.18M379.54 306.34L379.55 306.34L380.24 306.11L380.94 305.88L381.63 305.65L382.33 305.41L382.36 305.40M384.98 304.49L384.99 304.49L385.68 304.24L386.38 303.98L387.07 303.73L387.77 303.47L387.78 303.47M390.38 302.47L390.39 302.46L391.09 302.19L391.78 301.91L392.48 301.63L393.16 301.34M395.74 300.24L395.74 300.24L396.44 299.93L397.13 299.62L397.83 299.30L398.49 298.99M401.04 297.76L401.04 297.76L401.74 297.41L402.43 297.06L403.13 296.70L403.76 296.37M406.27 295.03L406.27 295.03L406.97 294.65L407.66 294.27L408.36 293.87L408.96 293.53M411.44 292.07L411.45 292.06L412.15 291.64L412.84 291.21L413.54 290.78L414.08 290.44M416.53 288.88L416.54 288.87L417.24 288.41L417.93 287.96L418.63 287.49L419.14 287.15M421.55 285.48L421.55 285.47L422.24 284.98L422.94 284.47L423.63 283.96L424.11 283.61M426.47 281.81L426.47 281.81L427.16 281.26L427.86 280.71L428.55 280.15L428.97 279.81M431.28 277.89L431.30 277.88L431.99 277.29L432.69 276.69L433.38 276.09L433.74 275.78M436.00 273.75L436.01 273.74L436.70 273.11L437.40 272.47L438.09 271.82L438.40 271.53M440.61 269.40L440.61 269.40L441.31 268.71L442.00 268.01L442.70 267.31L442.95 267.05M445.09 264.80L445.10 264.79L445.79 264.04L446.49 263.27L447.18 262.50L447.35 262.31M449.40 259.91L449.41 259.90L450.10 259.04L450.80 258.16L451.49 257.27L451.53 257.22M453.48 254.66L453.49 254.64L454.19 253.71L454.88 252.78L455.55 251.88M457.48 249.29L457.49 249.29L458.18 248.34L458.88 247.38L459.53 246.47M461.40 243.80L461.40 243.80L462.09 242.79L462.79 241.76L463.37 240.89M465.19 238.16L465.20 238.13L465.90 237.08L466.59 236.02L467.13 235.21M468.92 232.44L468.92 232.44L469.62 231.35L470.31 230.24L470.82 229.44M472.57 226.63L472.59 226.60L473.28 225.50L473.98 224.38L474.46 223.61M476.18 220.76L476.19 220.75L476.88 219.56L477.58 218.34L477.97 217.63M479.57 214.65L479.57 214.64L480.27 213.33L480.96 211.99L481.26 211.42" stroke="#000" stroke-width="1.75" fill="none"/>
<path d="M342.78 322.40L343.29 321.53L343.81 320.73L344.33 320.00L344.84 319.33L345.36 318.71L345.88 318.13L346.40 317.60L346.91 317.11L347.43 316.64L347.95 316.21L348.47 315.81L348.98 315.43L349.50 315.07L350.02 314.74L350.54 314.42L351.05 314.12L351.57 313.84L352.09 313.57L352.61 313.31L353.12 313.06L353.64 312.83L354.16 312.60L354.68 312.39L355.19 312.18L355.71 311.98L356.23 311.78L356.75 311.60L357.26 311.41L357.78 311.24L358.30 311.07L358.82 310.90L359.33 310.74L359.85 310.58L360.37 310.42L360.89 310.27L361.40 310.12L361.92 309.97L362.44 309.83L362.96 309.68L363.47 309.54L363.99 309.40L364.51 309.26L365.03 309.13L365.54 308.99L366.06 308.86L366.58 308.72L367.10 308.59L367.61 308.46L368.13 308.33L368.65 308.19L369.17 308.06L369.68 307.93L370.20 307.80L370.72 307.67L371.24 307.54L371.75 307.41L372.27 307.28L372.79 307.14L373.31 307.01L373.82 306.88L374.34 306.74L374.86 306.61L375.37 306.48L375.89 306.34L376.41 306.20L376.93 306.07L377.44 305.93L377.96 305.79L378.48 305.65L379.00 305.51L379.51 305.36L380.03 305.22L380.55 305.07L381.07 304.93L381.58 304.78L382.10 304.63L382.62 304.48L383.14 304.33L383.65 304.17L384.17 304.02L384.69 303.86L385.21 303.71L385.72 303.55L386.24 303.38L386.76 303.22L387.28 303.06L387.79 302.89L388.31 302.72L388.83 302.55L389.35 302.38L389.86 302.20L390.38 302.03L390.90 301.85L391.42 301.67L391.93 301.49L392.45 301.30L392.97 301.12L393.49 300.93L394.00 300.74L394.52 300.54L395.04 300.35L395.56 300.15L396.07 299.95L396.59 299.75L397.11 299.54L397.63 299.34L398.14 299.13L398.66 298.91L399.18 298.70L399.70 298.48L400.21 298.26L400.73 298.04L401.25 297.82L401.77 297.59L402.28 297.36L402.80 297.12L403.32 296.89L403.84 296.65L404.35 296.41L404.87 296.16L405.39 295.92L405.90 295.67L406.42 295.41L406.94 295.16L407.46 294.90L407.97 294.64L408.49 294.37L409.01 294.11L409.53 293.83L410.04 293.56L410.56 293.28L411.08 293.00L411.60 292.72L412.11 292.43L412.63 292.14L413.15 291.85L413.67 291.55L414.18 291.25L414.70 290.95L415.22 290.64L415.74 290.33L416.25 290.01L416.77 289.70L417.29 289.37L417.81 289.05L418.32 288.72L418.84 288.39L419.36 288.05L419.88 287.71L420.39 287.37L420.91 287.02L421.43 286.67L421.95 286.32L422.46 285.96L422.98 285.59L423.50 285.23L424.02 284.86L424.53 284.48L425.05 284.10L425.57 283.72L426.09 283.33L426.60 282.94L427.12 282.55L427.64 282.15L428.16 281.75L428.67 281.34L429.19 280.93L429.71 280.51L430.23 280.09L430.74 279.66L431.26 279.23L431.78 278.80L432.30 278.36L432.81 277.92L433.33 277.47L433.85 277.02L434.37 276.56L434.88 276.10L435.40 275.63L435.92 275.16L436.43 274.69L436.95 274.21L437.47 273.72L437.99 273.23L438.50 272.74L439.02 272.24L439.54 271.73L440.06 271.22L440.57 270.71L441.09 270.19L441.61 269.66L442.13 269.13L442.64 268.59L443.16 268.05L443.68 267.51L444.20 266.96L444.71 266.40L445.23 265.84L445.75 265.27L446.27 264.70L446.78 264.12L447.30 263.54L447.82 262.95L448.34 262.35L448.85 261.75L449.37 261.15L449.89 260.53L450.41 259.92L450.92 259.29L451.44 258.67L451.96 258.03L452.48 257.39L452.99 256.74L453.51 256.09L454.03 255.43L454.55 254.77L455.06 254.10L455.58 253.42L456.10 252.74L456.62 252.05L457.13 251.36L457.65 250.66L458.17 249.95L458.69 249.24L459.20 248.52L459.72 247.79L460.24 247.06L460.76 246.32L461.27 245.57L461.79 244.82L462.31 244.06L462.83 243.30L463.34 242.53L463.86 241.75L464.38 240.96L464.90 240.17L465.41 239.37L465.93 238.57L466.45 237.75L466.96 236.93L467.48 236.11L468.00 235.28L468.52 234.43L469.03 233.59L469.55 232.73L470.07 231.87L470.59 231.00L471.10 230.13L471.62 229.24L472.14 228.35L472.66 227.46L473.17 226.55L473.69 225.64L474.21 224.72L474.73 223.79L475.24 222.85L475.76 221.91L476.28 220.96L476.80 220.00L477.31 219.04L477.83 218.06L478.35 217.08L478.87 216.09L479.38 215.10L479.90 214.09L480.42 213.08L480.94 212.06L481.45 211.03L481.97 209.99L482.49 208.95L483.01 207.89L483.52 206.83L484.04 205.76L484.56 204.69L485.08 203.60L485.59 202.50L486.11 201.40L486.63 200.29L487.15 199.17L487.66 198.04L488.18 196.90L488.70 195.76L489.22 194.60L489.73 193.44L490.25 192.27L490.77 191.09L491.29 189.90L491.80 188.70L492.32 187.49L492.84 186.27L493.36 185.05L493.87 183.81L494.39 182.57L494.91 181.32L495.43 180.06L495.94 178.78L496.46 177.50L496.98 176.21L497.50 174.91" stroke="#000" stroke-width="1.75" fill="none"/>
<rect x="354.58" y="309.96" width="5.4" height="5.4" fill="none" stroke="#707070" stroke-width="0.75"/>
<rect x="384.80" y="300.87" width="5.4" height="5.4" fill="none" stroke="#707070" stroke-width="0.75"/>
<rect x="415.02" y="285.40" width="5.4" height="5.4" fill="none" stroke="#707070" stroke-width="0.75"/>
<rect x="445.24" y="258.94" width="5.4" height="5.4" fill="none" stroke="#707070" stroke-width="0.75"/>
<rect x="475.45" y="214.58" width="5.4" height="5.4" fill="none" stroke="#707070" stroke-width="0.75"/>
</g>
<text x="341.10" y="207.60" transform="rotate(0.03 341.10 207.60)" font-size="12.8" fill="#111" xml:space="preserve">(d)<tspan dx="5.9">Equibiaxial</tspan></text>
<text x="362.30" y="220.40" transform="rotate(0.03 362.30 220.40)" font-size="12.8" fill="#111" xml:space="preserve">Tension (ET)</text>
<path d="M343.6 243.6H389.7" stroke="#1a1a1a" stroke-width="1.5" fill="none"/>
<path d="M343.0 260.7H389.5" stroke="#1a1a1a" stroke-width="1.5" fill="none" stroke-dasharray="2.9 2.52"/>
<rect x="364.20" y="258.00" width="5.4" height="5.4" fill="none" stroke="#707070" stroke-width="0.75"/>
<text x="396.00" y="247.50" transform="rotate(0.03 396.00 247.50)" font-size="12.8" fill="#111" xml:space="preserve">O</text>
<text x="395.80" y="264.80" transform="rotate(0.03 395.80 264.80)" font-size="12.8" fill="#111" xml:space="preserve">N</text>
</svg>
</body></html>
